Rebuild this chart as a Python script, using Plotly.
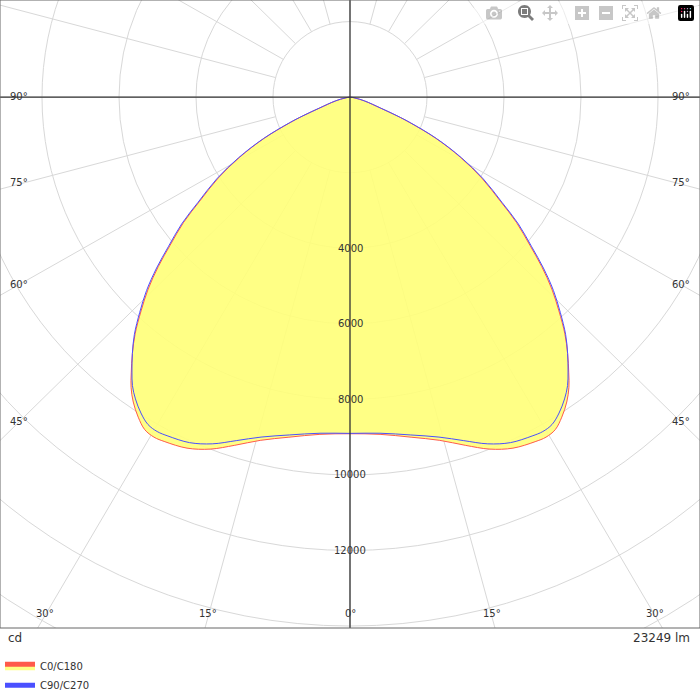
import numpy as np
import plotly.graph_objects as go

gamma = [0, 5, 10, 14.4, 18, 21.3, 24.5, 27.8, 29.5, 31.2, 33, 34.9, 36.5, 37.9, 39.8, 41.7, 43.8, 45.9, 48, 50, 52.5, 54.8, 58, 61, 64, 66.6, 68, 70, 75, 80, 90]
c0 = [8910, 8960, 9140, 9380, 9690, 10000, 10210, 10310, 10340, 10290, 10100, 9840, 9560, 9250, 8830, 8390, 7840, 7300, 6700, 6100, 5450, 4780, 4030, 3270, 2470, 1690, 1300, 830, 390, 130, 0]
c90 = [8900, 8930, 9080, 9290, 9560, 9850, 10050, 10140, 10170, 10130, 9970, 9740, 9500, 9220, 8830, 8420, 7890, 7360, 6760, 6160, 5510, 4830, 4080, 3310, 2500, 1720, 1320, 850, 400, 130, 0]
radii = [2000, 4000, 6000, 8000, 10000, 12000, 14000, 16000, 18000, 20000]
rlabels = [4000, 6000, 8000, 10000, 12000]
S = 0.0385  # px per cd
X0, X1 = -350 / S, 350 / S
Y0, Y1 = -541 / S, 99 / S

def xy(g, r):
    g = np.radians(np.array(g)); r = np.array(r)
    xr = r * np.sin(g); yr = -r * np.cos(g)
    x = np.concatenate([-xr[::-1], xr[1:]]); y = np.concatenate([yr[::-1], yr[1:]])
    return x, y

fig = go.Figure()
shapes = []
for R in radii:
    shapes.append(dict(type="circle", x0=-R, x1=R, y0=-R, y1=R, line=dict(color="#d8d8d8", width=1), layer="below"))
for a in range(0, 360, 15):
    t = np.radians(a)
    shapes.append(dict(type="line", x0=2000*np.sin(t), y0=2000*np.cos(t), x1=30000*np.sin(t), y1=30000*np.cos(t),
                       line=dict(color="#d8d8d8", width=1), layer="below"))
x, y = xy(gamma, c0)
fig.add_trace(go.Scatter(x=x, y=y, fill="toself", fillcolor="rgba(255,255,120,0.9)", line=dict(color="#ff5a4a", width=1, shape="spline"), name="C0/C180", mode="lines"))
x, y = xy(gamma, c90)
fig.add_trace(go.Scatter(x=x, y=y, line=dict(color="#4a50ff", width=1, shape="spline"), name="C90/C270", mode="lines"))
shapes.append(dict(type="line", x0=0, x1=0, y0=Y0, y1=Y1, line=dict(color="#333", width=1.3)))
shapes.append(dict(type="line", x0=X0, x1=X1, y0=0, y1=0, line=dict(color="#333", width=1.3)))
shapes.append(dict(type="rect", xref="paper", yref="paper", x0=0, x1=1, y0=0, y1=1, line=dict(color="#666", width=1)))

ann = []
f = dict(family="DejaVu Sans", size=10, color="#333")
for v in rlabels:
    ann.append(dict(x=0, y=-v, text=str(v), showarrow=False, font=f, yanchor="middle"))
for a, px in [(0, 350), (15, 208), (30, 45)]:
    for s in ([1, -1] if a else [1]):
        ann.append(dict(x=(px - 350) / S * s if a else 0, y=Y0 + 15 / S, text=f"{a}°", showarrow=False, font=f))
for a, py in [(45, 430), (60, 290), (75, 186), (90, 98)]:
    yy = (99 - py) / S
    ann.append(dict(x=X0, y=yy, text=f"{a}°", showarrow=False, font=f, xanchor="left", xshift=8))
    ann.append(dict(x=X1, y=yy, text=f"{a}°", showarrow=False, font=f, xanchor="right", xshift=-8))
ann.append(dict(xref="paper", yref="paper", x=0, y=0, text="cd", showarrow=False, font=dict(family="DejaVu Sans", size=12, color="#333"), xanchor="left", yanchor="top", xshift=6, yshift=-1))
ann.append(dict(xref="paper", yref="paper", x=1, y=0, text="23249 lm", showarrow=False, font=dict(family="DejaVu Sans", size=12, color="#333"), xanchor="right", yanchor="top", xshift=-8, yshift=-1))

fig.update_layout(width=700, height=700, margin=dict(l=0, r=0, t=0, b=60), plot_bgcolor="white", paper_bgcolor="white",
                  shapes=shapes, annotations=ann,
                  xaxis=dict(range=[X0, X1], visible=False), yaxis=dict(range=[Y0, Y1], visible=False),
                  legend=dict(x=0, y=-0.038, xanchor="left", yanchor="top", font=dict(family="DejaVu Sans", size=10, color="#333"),
                              tracegroupgap=0, itemwidth=30, bgcolor="rgba(0,0,0,0)", itemsizing="constant"))
fig.write_html("out.html")
with open("out.html") as fh:
    html = fh.read()
html = html.replace("<body>", '<body style="margin:0;overflow:hidden">', 1)
with open("out.html", "w") as fh:
    fh.write(html)
